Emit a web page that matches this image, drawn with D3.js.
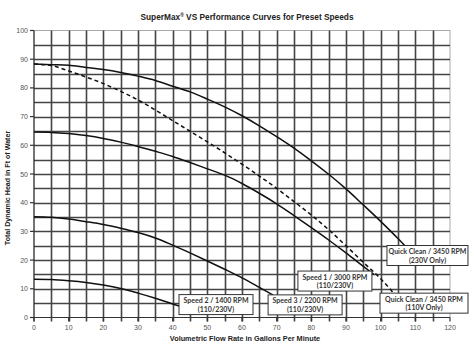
<!DOCTYPE html>
<html><head><meta charset="utf-8">
<script src="https://cdn.jsdelivr.net/npm/d3@7"></script>
<style>body{margin:0;background:#fff}svg{display:block}</style>
</head><body>
<svg id="c" width="474" height="355"></svg>
<script>
// ---- data ----
const xTicks = [0,10,20,30,40,50,60,70,80,90,100,110,120];
const yTicks = [0,10,20,30,40,50,60,70,80,90,100];
const qc230X = [0,5,10,15,20,25,30,35,40,45,50,55,60,65,70,75,80,85,90,95,100,105,110];
const qc230Y = [88.3,88.1,87.9,87.1,86.4,85.4,84.1,82.6,80.6,78.6,76.1,73.4,70.3,66.8,63,59,54.6,49.9,44.8,39.2,33.5,27.5,21];
const qc110X = [0,5,10,15,20,25,30,35,40,45,50,55,60,65,70,75,80,85,90,95,100,103.5];
const qc110Y = [88.3,87.8,85.9,83.8,81.5,78.8,75.8,72.3,68.6,64.9,61.2,57.4,53.4,49.3,45,40.4,35.7,30.6,25,19.2,13.5,8.8];
const sp1X = [0,5,10,15,20,25,30,35,40,45,50,55,60,65,70,75,80,85,90,95,98];
const sp1Y = [64.6,64.5,64.1,63.4,62.4,61.1,59.6,57.9,56.1,54,51.8,49.6,46.7,43.3,39.6,35.5,31.3,27,22.5,17.8,15];
const sp3X = [0,5,10,15,20,25,30,35,40,45,50,55,60,65,69];
const sp3Y = [35.1,34.9,34.3,33.4,32.4,31.1,29.6,27.7,25.2,22.5,19.7,16.8,13.8,10.5,7.8];
const sp2X = [0,5,10,15,20,25,30,35,40,44];
const sp2Y = [13.3,13.2,12.8,12.2,11.3,10.1,8.5,6.7,4.7,3.2];
const labelText = [
  ["Quick Clean / 3450 RPM","(230V Only)"],
  ["Speed 1 / 3000 RPM","(110/230V)"],
  ["Quick Clean / 3450 RPM","(110V Only)"],
  ["Speed 3 / 2200 RPM","(110/230V)"],
  ["Speed 2 / 1400 RPM","(110/230V)"]
];
const labelAtX = [113.5, 86.8, 112.5, 78.2, 52.5];
const labelAtY = [21.6, 12.7, 5.0, 4.4, 4.5];

// ---- layout ----
const svg = d3.select("#c");
const L=34, R=450, T=30.5, B=317.5;
const x = d3.scaleLinear().domain([0,120]).range([L,R]);
const y = d3.scaleLinear().domain([0,100]).range([B,T]);
const grid5x = d3.range(5,120,5);
const grid5y = d3.range(5,100,5);

// border (light)
svg.append("rect").attr("x",L).attr("y",T).attr("width",R-L).attr("height",B-T)
  .attr("fill","none").attr("stroke","#aaa").attr("stroke-width",1);

// grid
const g = svg.append("g").attr("stroke","#444").attr("stroke-width",1.6);
g.selectAll(".v").data(grid5x).join("line")
  .attr("x1",d=>Math.round(x(d))+0.5).attr("x2",d=>Math.round(x(d))+0.5)
  .attr("y1",T).attr("y2",B+4);
g.selectAll(".h").data(grid5y).join("line")
  .attr("x1",L).attr("x2",R)
  .attr("y1",d=>Math.round(y(d))+0.5).attr("y2",d=>Math.round(y(d))+0.5);

// axes
const ax = svg.append("g").attr("stroke","#333").attr("stroke-width",1.2);
ax.append("line").attr("x1",L).attr("x2",L).attr("y1",T).attr("y2",B+4);
ax.append("line").attr("x1",L-4).attr("x2",R).attr("y1",B).attr("y2",B);
ax.selectAll(".yt").data(yTicks).join("line")
  .attr("x1",L-4).attr("x2",L).attr("y1",d=>y(d)).attr("y2",d=>y(d));
ax.selectAll(".xt").data(xTicks).join("line")
  .attr("x1",d=>x(d)).attr("x2",d=>x(d)).attr("y1",B).attr("y2",B+4);

svg.append("g").selectAll("text").data(yTicks).join("text")
  .attr("x",L-6).attr("y",d=>y(d)+2.5).attr("text-anchor","end")
  .attr("font-family","Liberation Sans, Arial").attr("font-size",7).attr("fill","#555")
  .text(d=>d);
svg.append("g").selectAll("text").data(xTicks).join("text")
  .attr("x",d=>x(d)).attr("y",B+12).attr("text-anchor","middle")
  .attr("font-family","Liberation Sans, Arial").attr("font-size",7).attr("fill","#555")
  .text(d=>d);

// titles
const title = svg.append("text").attr("x",247).attr("y",20).attr("text-anchor","middle")
  .attr("font-family","Liberation Sans, Arial").attr("font-weight","bold").attr("font-size",8.3).attr("fill","#222");
title.append("tspan").text("SuperMax");
title.append("tspan").attr("font-size",5).attr("dy",-3).text("®");
title.append("tspan").attr("dy",3).text(" VS Performance Curves for Preset Speeds");

svg.append("text").attr("x",245).attr("y",341).attr("text-anchor","middle")
  .attr("font-family","Liberation Sans, Arial").attr("font-weight","bold").attr("font-size",7.3).attr("fill","#222")
  .text("Volumetric Flow Rate in Gallons Per Minute");
svg.append("text").attr("transform","translate(10,188) rotate(-90)").attr("text-anchor","middle")
  .attr("font-family","Liberation Sans, Arial").attr("font-weight","bold").attr("font-size",7.1).attr("fill","#222")
  .text("Total Dynamic Head in Ft of Water");

// curves
const line = d3.line().x(d=>x(d[0])).y(d=>y(d[1])).curve(d3.curveMonotoneX);
const series = [
  {xs:qc230X, ys:qc230Y, dash:null},
  {xs:qc110X, ys:qc110Y, dash:"4,3"},
  {xs:sp1X, ys:sp1Y, dash:null},
  {xs:sp3X, ys:sp3Y, dash:null},
  {xs:sp2X, ys:sp2Y, dash:null}
];
svg.append("g").selectAll("path").data(series).join("path")
  .attr("d",s=>line(s.xs.map((v,i)=>[v,s.ys[i]])))
  .attr("fill","none").attr("stroke","#111").attr("stroke-width",1.5)
  .attr("stroke-dasharray",s=>s.dash);

// labels
const boxW = [81,74,88,74,74], boxH = 20;
const lg = svg.append("g").selectAll("g").data(labelText).join("g")
  .attr("transform",(d,i)=>`translate(${x(labelAtX[i])},${y(labelAtY[i])})`);
lg.append("rect").attr("x",(d,i)=>-boxW[i]/2).attr("y",-boxH/2).attr("width",(d,i)=>boxW[i]).attr("height",boxH)
  .attr("fill","#fff").attr("stroke","#333").attr("stroke-width",1);
lg.append("text").attr("y",-1.5).attr("text-anchor","middle")
  .attr("font-family","Lato, Open Sans").attr("font-weight","bold").attr("font-size",7).attr("fill","#333")
  .text(d=>d[0]);
lg.append("text").attr("y",7).attr("text-anchor","middle")
  .attr("font-family","Lato, Open Sans").attr("font-weight","bold").attr("font-size",7).attr("fill","#333")
  .text(d=>d[1]);
</script>
</body></html>
